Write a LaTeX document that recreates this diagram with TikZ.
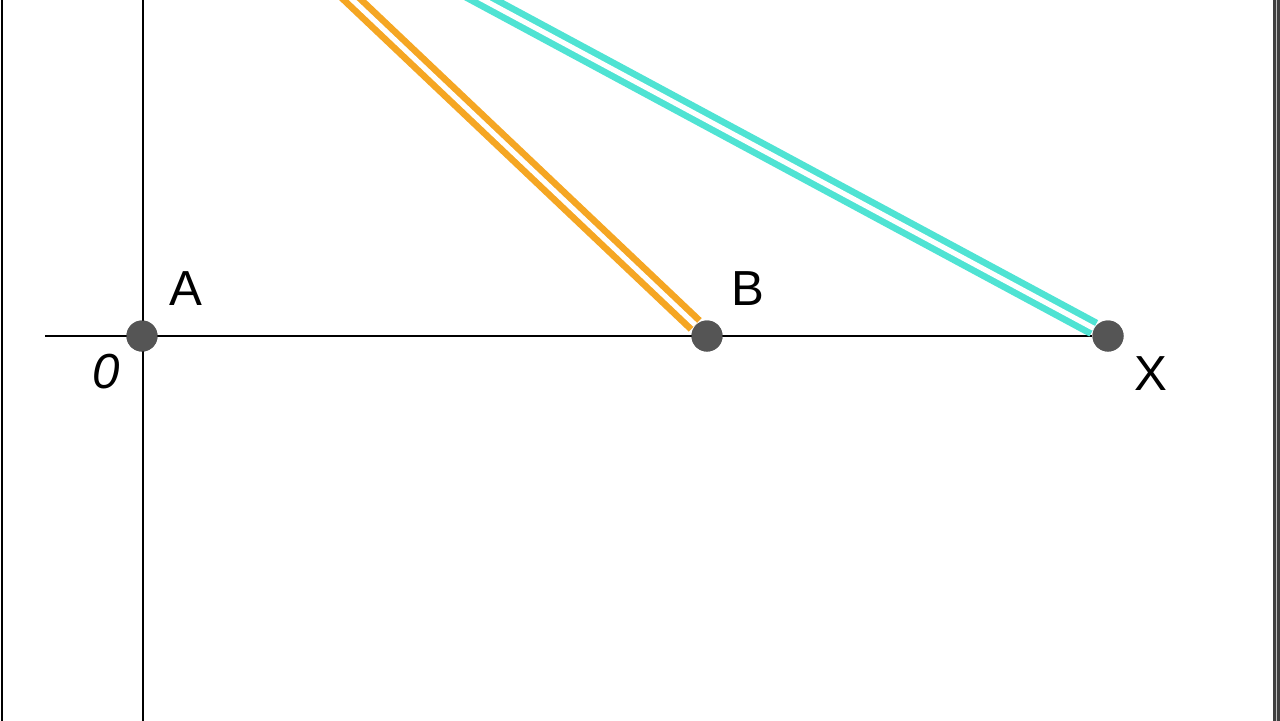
\documentclass[tikz,border=0pt]{standalone}
\usepackage{fontspec}
\setmainfont{Liberation Sans}
\usepackage{xcolor}
\usetikzlibrary{positioning}
\definecolor{rodorange}{HTML}{F5A623}
\definecolor{rodcyan}{HTML}{4FE3D3}
\definecolor{dotgray}{HTML}{555555}

\begin{document}
\begin{tikzpicture}[x=0.01cm, y=-0.01cm,
    point/.style={circle, fill=dotgray, inner sep=0pt, minimum size=0.31cm},
    lbl/.style={inner sep=0pt, font=\fontsize{14}{16}\selectfont},
    axis/.style={black, line width=0.6pt},
    rod/.style={line width=1.9pt, double=white, double distance=1.5pt}
]
\useasboundingbox (0,0) rectangle (1280,720);
\clip (0,0) rectangle (1280,720);
\fill[white] (0,0) rectangle (1280,720);

\node[point] (A) at (142,336) {};
\node[point] (B) at (707,336) {};
\node[point] (X) at (1108,336) {};

\coordinate (axleft) at (45,336);
\coordinate (axtop) at (143,-5);
\coordinate (axbot) at (143,725);
\coordinate (rodB) at (321,-30);
\coordinate (rodX) at (428,-30);

\draw[axis] (2,-5) -- (2,725);
\draw[line width=0.7pt, darkgray, double=gray!50, double distance=0.45pt] (1276.5,-5) -- (1276.5,725);
\draw[axis] (axtop) -- (axbot);
\draw[axis] (axleft) -- (X);

\draw[rod, rodorange] (B) -- (rodB);
\draw[rod, rodcyan] (X) -- (rodX);

\node[point] at (A) {};
\node[point] at (B) {};
\node[point] at (X) {};

\node[lbl] (labA) at (186,289) {A};
\node[lbl] (labB) at (748,289) {B};
\node[lbl, font=\fontsize{14}{16}\selectfont\itshape] (labO) at (106,372) {0};
\node[lbl] (labX) at (1151,374) {X};
\end{tikzpicture}
\end{document}
